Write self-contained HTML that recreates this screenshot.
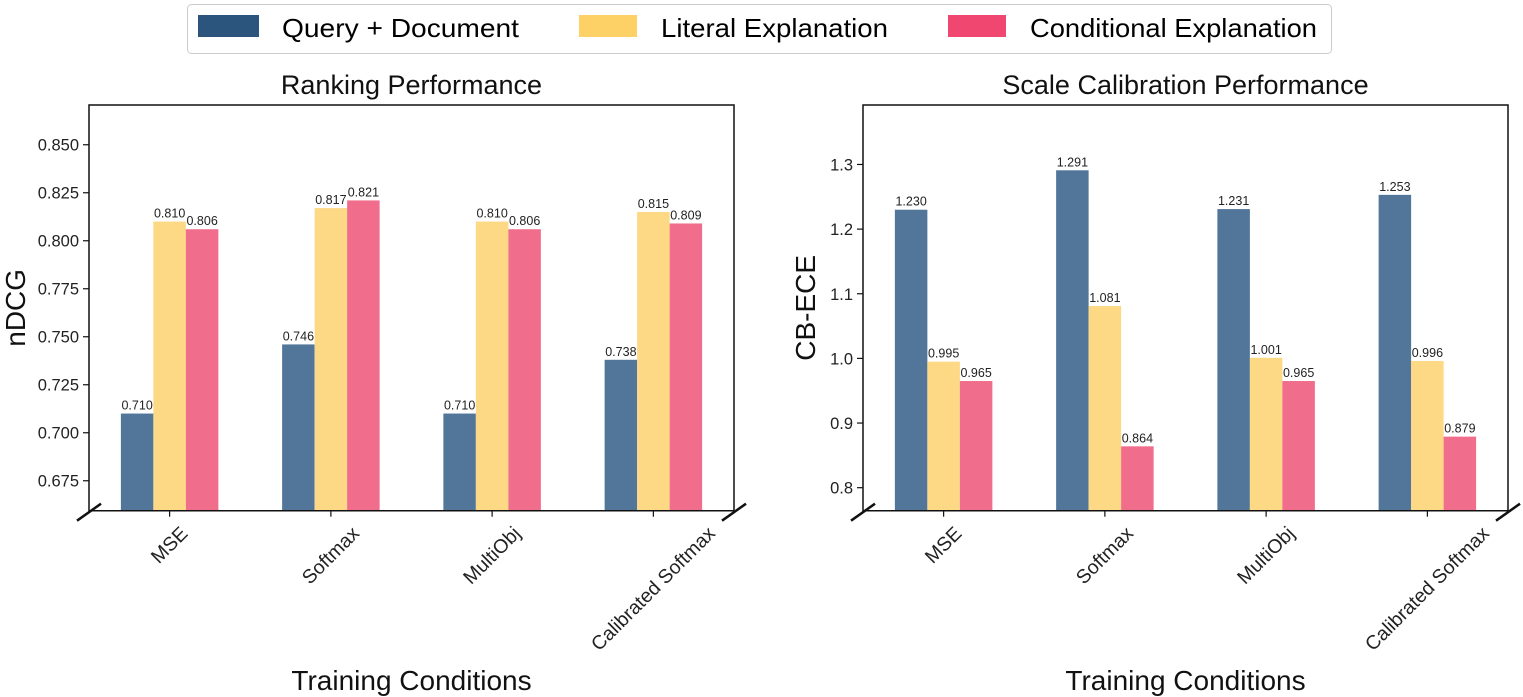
<!DOCTYPE html>
<html><head><meta charset="utf-8"><style>
html,body{margin:0;padding:0;background:#fff}
svg{display:block;font-family:"Liberation Sans","DejaVu Sans",sans-serif}
</style></head><body>
<svg id="chart" width="1523" height="697" viewBox="0 0 1523 697">
<g>
<rect x="187.5" y="4.5" width="1144" height="49" rx="4" fill="#fff" stroke="#ccc"/>
<g><rect x="198" y="15" width="61" height="22" fill="#2b557c"/><text x="282" y="37" font-size="26" textLength="237" lengthAdjust="spacingAndGlyphs">Query + Document</text></g>
<g><rect x="579" y="15" width="58" height="22" fill="#fed166"/><text x="661" y="37" font-size="26" textLength="227" lengthAdjust="spacingAndGlyphs">Literal Explanation</text></g>
<g><rect x="948" y="15" width="58" height="22" fill="#ef476f"/><text x="1030" y="37" font-size="26" textLength="287" lengthAdjust="spacingAndGlyphs">Conditional Explanation</text></g>
</g>
<g id="p1"></g>
<g id="p2"></g>
</svg>
<script>
const categories = ["MSE","Softmax","MultiObj","Calibrated Softmax"];
const seriesNames = ["Query + Document","Literal Explanation","Conditional Explanation"];
const ndcgQD = [0.710,0.746,0.710,0.738];
const ndcgLit = [0.810,0.817,0.810,0.815];
const ndcgCond = [0.806,0.821,0.806,0.809];
const eceQD = [1.230,1.291,1.231,1.253];
const eceLit = [0.995,1.081,1.001,0.996];
const eceCond = [0.965,0.864,0.965,0.879];
const ndcgTicks = [0.675,0.700,0.725,0.750,0.775,0.800,0.825,0.850];
const eceTicks = [0.8,0.9,1.0,1.1,1.2,1.3];
const barColors = ["#52769a","#fdd885","#f06e8c"];
const NS="http://www.w3.org/2000/svg";
function mk(parent,tag,attrs){const e=document.createElementNS(NS,tag);for(const k in attrs)e.setAttribute(k,attrs[k]);parent.appendChild(e);return e;}
function panel(g,cfg){
  const L=cfg.left,R=cfg.right,T=105,B=510.7;
  const y=v=>B-(v-cfg.ymin)/(cfg.ymax-cfg.ymin)*(B-T);
  const step=(R-L)/4;
  const x=i=>L+step*(i+0.5);
  const bw=32.5;
  const series=[cfg.s0,cfg.s1,cfg.s2];
  series.forEach((arr,s)=>{
    arr.forEach((v,i)=>{
      const cx=x(i)+(s-1)*bw;
      const r=mk(g,"rect",{x:cx-bw/2,y:y(v),width:bw,height:B-y(v),fill:barColors[s]});
      
      
      const t=mk(g,"text",{x:cx,y:y(v)-4,"font-size":12.5,"text-anchor":"middle",fill:"#222"});
      t.textContent=v.toFixed(3);
      
      
    });
  });
  const ax=mk(g,"path",{d:`M${L},${T}H${R}V${B}H${L}Z`,fill:"none",stroke:"#111","stroke-width":1.5});
  
  
  [[L,B],[R,B]].forEach(p=>{
    const br=mk(g,"line",{x1:p[0]-12,y1:B+10,x2:p[0]+12,y2:B-7,stroke:"#111","stroke-width":2.5});
    
    
  });
  cfg.ticks.forEach(tv=>{
    mk(g,"line",{x1:L-6,x2:L,y1:y(tv),y2:y(tv),stroke:"#111","stroke-width":1.2});
    const t=mk(g,"text",{x:L-10,y:y(tv)+6,"font-size":16.5,"text-anchor":"end",fill:"#222"});
    t.textContent=cfg.fmt(tv);
    
    
  });
  categories.forEach((c,i)=>{
    mk(g,"line",{x1:x(i),x2:x(i),y1:B,y2:B+6,stroke:"#111","stroke-width":1.2});
    const t=mk(g,"text",{"font-size":19.5,"text-anchor":"middle","dominant-baseline":"central",fill:"#222"});
    t.textContent=c;
    
    
    const len=t.getComputedTextLength();
    const cy=B+13+(len+19)*0.7071/2;
    t.setAttribute('transform',`translate(${x(i)},${cy}) rotate(-45)`);
  });
  const tt=mk(g,"text",{x:(L+R)/2,y:94,"font-size":27,"text-anchor":"middle",fill:"#111"});
  tt.textContent=cfg.title;
  
  
  const xt=mk(g,"text",{x:(L+R)/2,y:690,"font-size":28,"text-anchor":"middle",fill:"#111"});
  xt.textContent="Training Conditions";
  
  
  const yt=mk(g,"text",{transform:`translate(${cfg.ylx},${(T+B)/2}) rotate(-90)`,"font-size":28,"text-anchor":"middle",fill:"#111"});
  yt.textContent=cfg.ylabel;
  
  
}
panel(document.getElementById("p1"),{left:89,right:734,ymin:0.6594,ymax:0.8707,s0:ndcgQD,s1:ndcgLit,s2:ndcgCond,ticks:ndcgTicks,fmt:v=>v.toFixed(3),title:"Ranking Performance",ylabel:"nDCG",ylx:25});
panel(document.getElementById("p2"),{left:863,right:1508,ymin:0.7644,ymax:1.392,s0:eceQD,s1:eceLit,s2:eceCond,ticks:eceTicks,fmt:v=>v.toFixed(1),title:"Scale Calibration Performance",ylabel:"CB-ECE",ylx:815});
</script>
</body></html>
